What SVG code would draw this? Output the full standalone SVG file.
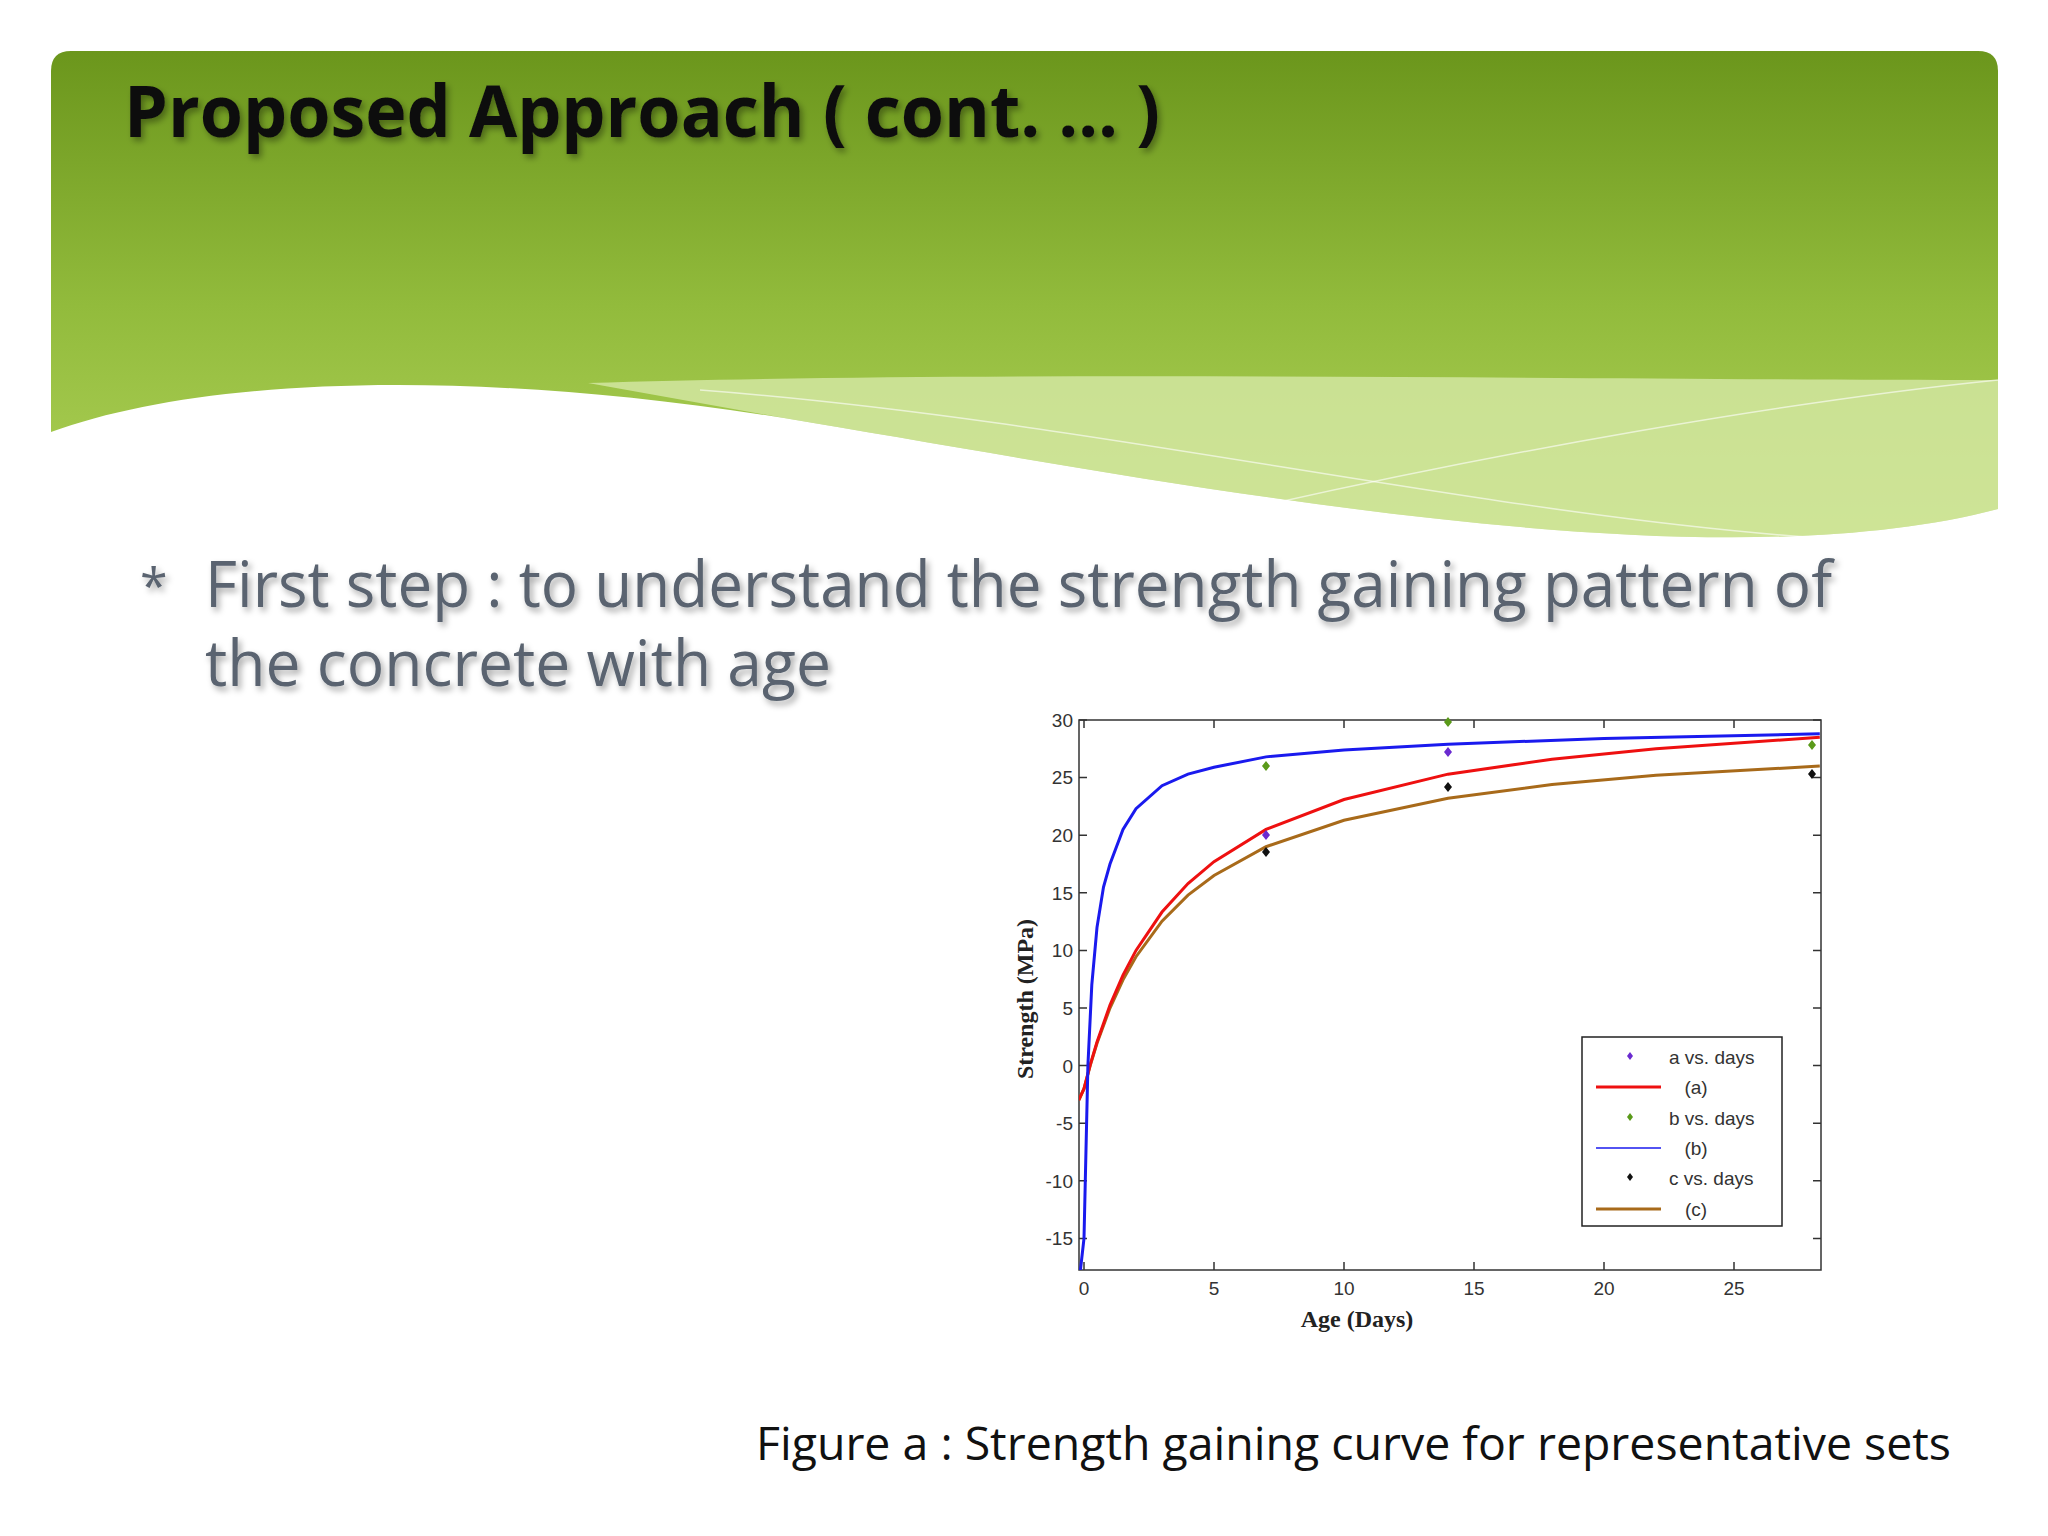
<svg xmlns="http://www.w3.org/2000/svg" width="2048" height="1536" viewBox="0 0 2048 1536">
<defs>
<linearGradient id="hg" x1="0" y1="0" x2="0" y2="1">
<stop offset="0" stop-color="#6b961c"/><stop offset="0.5" stop-color="#92bb3c"/><stop offset="1" stop-color="#b2d45c"/>
</linearGradient>
<filter id="sh" x="-5%" y="-20%" width="110%" height="140%"><feDropShadow dx="3" dy="4" stdDeviation="3" flood-color="#000" flood-opacity="0.35"/></filter>
<clipPath id="pc"><rect x="1079" y="720" width="742" height="550"/></clipPath>
<style>
.tk{font-family:"Liberation Sans",Arial,sans-serif;font-size:19px;fill:#333}
.lg{font-family:"Liberation Sans",Arial,sans-serif;font-size:19px;fill:#333}
.cv{fill:none;stroke-width:3;vector-effect:non-scaling-stroke}
.tm{stroke:#333;stroke-width:1.5}
</style>
</defs>
<rect width="2048" height="1536" fill="#fff"/>
<g id="header">
<path d="M51,71 Q51,51 71,51 L1978,51 Q1998,51 1998,71 L1998,560 L51,560 Z" fill="url(#hg)"/>
<path d="M588,383 C1000,370 1600,380 1998,380 L1998,509 C1698,588 1175,483 784,418 Z" fill="#d6e9a6" opacity="0.8"/>
<path d="M700,390 C1100,420 1500,520 1850,540" fill="none" stroke="#fff" stroke-width="1.5" opacity="0.6"/>
<path d="M1200,520 C1500,450 1800,400 1998,380" fill="none" stroke="#fff" stroke-width="1.5" opacity="0.6"/>
<path d="M51,432 C196,379 457,366 784,418 C1175,483 1698,588 1998,509 L1998,600 L51,600 Z" fill="#fff"/>
<text x="124" y="137" font-family="'Open Sans',sans-serif" font-weight="bold" font-size="72" fill="#111" textLength="1036" lengthAdjust="spacingAndGlyphs" filter="url(#sh)">Proposed Approach ( cont. … )</text>
</g>
<g id="bullet" font-family="'Open Sans',sans-serif" fill="#5a6470" filter="url(#sh)">
<text x="140" y="604" font-size="50">*</text>
<text x="205" y="607" font-size="64" textLength="1627" lengthAdjust="spacingAndGlyphs">First step : to understand the strength gaining pattern of</text>
<text x="205" y="686" font-size="64" textLength="626" lengthAdjust="spacingAndGlyphs">the concrete with age</text>
</g>
<g id="plot">
<rect x="1079" y="720" width="742" height="550" fill="#fff" stroke="#333" stroke-width="1.5"/>
<g class="tm">
<path d="M1079,720h8M1079,777.6h8M1079,835.2h8M1079,892.8h8M1079,950.4h8M1079,1008h8M1079,1065.6h8M1079,1123.2h8M1079,1180.8h8M1079,1238.4h8"/>
<path d="M1821,720h-8M1821,777.6h-8M1821,835.2h-8M1821,892.8h-8M1821,950.4h-8M1821,1008h-8M1821,1065.6h-8M1821,1123.2h-8M1821,1180.8h-8M1821,1238.4h-8"/>
<path d="M1084,1270v-8M1214,1270v-8M1344,1270v-8M1474,1270v-8M1604,1270v-8M1734,1270v-8"/>
<path d="M1084,720v8M1214,720v8M1344,720v8M1474,720v8M1604,720v8M1734,720v8"/>
</g>
<g class="tk" text-anchor="end">
<text x="1073" y="727">30</text><text x="1073" y="784">25</text><text x="1073" y="842">20</text><text x="1073" y="900">15</text><text x="1073" y="957">10</text><text x="1073" y="1015">5</text><text x="1073" y="1073">0</text><text x="1073" y="1130">-5</text><text x="1073" y="1188">-10</text><text x="1073" y="1245">-15</text>
</g>
<g class="tk" text-anchor="middle">
<text x="1084" y="1295">0</text><text x="1214" y="1295">5</text><text x="1344" y="1295">10</text><text x="1474" y="1295">15</text><text x="1604" y="1295">20</text><text x="1734" y="1295">25</text>
</g>
<text x="1357" y="1327" text-anchor="middle" font-family="'Liberation Serif',serif" font-weight="bold" font-size="24" fill="#222">Age (Days)</text>
<text transform="translate(1033,999) rotate(-90)" text-anchor="middle" font-family="'Liberation Serif',serif" font-weight="bold" font-size="24" fill="#222">Strength (MPa)</text>
<g clip-path="url(#pc)">
<g transform="translate(1084,1065.6) scale(26,-11.52)">
<polyline class="cv" stroke="#a86a1a" points="-0.2,-3 0,-2 0.25,0.1 0.5,1.94 1,5 1.5,7.45 2,9.45 3,12.54 4,14.8 5,16.5 7,19 10,21.3 14,23.2 18,24.4 22,25.2 28.3,26"/>
<polyline class="cv" stroke="#ee1010" points="-0.2,-3 0,-2 0.25,0.15 0.5,2.05 1,5.25 1.5,7.85 2,10 3,13.33 4,15.8 5,17.7 7,20.5 10,23.1 14,25.3 18,26.6 22,27.5 28.3,28.5"/>
<polyline class="cv" stroke="#1a1aee" points="-0.15,-18 0,-15 0.05,-10 0.15,0 0.3,7 0.5,12 0.75,15.5 1,17.5 1.5,20.5 2,22.3 3,24.3 4,25.3 5,25.9 7,26.8 10,27.4 14,27.9 20,28.4 28.3,28.8"/>
</g>
</g>
<g id="markers">
<path d="M1266,830l4,5l-4,5l-4,-5zM1448,747l4,5l-4,5l-4,-5z" fill="#6a2ad0"/>
<path d="M1266,761l4,5l-4,5l-4,-5zM1448,717l4,5l-4,5l-4,-5zM1812,740l4,5l-4,5l-4,-5z" fill="#5a9a1a"/>
<path d="M1266,847l4,5l-4,5l-4,-5zM1448,782l4,5l-4,5l-4,-5zM1812,769l4,5l-4,5l-4,-5z" fill="#111"/>
</g>
<g id="legend">
<rect x="1582" y="1037" width="200" height="189" fill="#fff" stroke="#222" stroke-width="1.5"/>
<path d="M1630,1052l3,4l-3,4l-3,-4z" fill="#6a2ad0"/>
<path d="M1630,1113l3,4l-3,4l-3,-4z" fill="#5a9a1a"/>
<path d="M1630,1173l3,4l-3,4l-3,-4z" fill="#111"/>
<line x1="1596" y1="1087" x2="1661" y2="1087" stroke="#ee1010" stroke-width="3"/>
<line x1="1596" y1="1148" x2="1661" y2="1148" stroke="#1a1aee" stroke-width="1.5"/>
<line x1="1596" y1="1209" x2="1661" y2="1209" stroke="#a86a1a" stroke-width="3"/>
<text class="lg" x="1669" y="1064">a vs. days</text>
<text class="lg" x="1696" y="1094" text-anchor="middle">(a)</text>
<text class="lg" x="1669" y="1125">b vs. days</text>
<text class="lg" x="1696" y="1155" text-anchor="middle">(b)</text>
<text class="lg" x="1669" y="1185">c vs. days</text>
<text class="lg" x="1696" y="1216" text-anchor="middle">(c)</text>
</g>
</g>
<text id="caption" x="1951" y="1460" text-anchor="end" font-family="'Open Sans',sans-serif" font-size="46" fill="#111" textLength="1195" lengthAdjust="spacingAndGlyphs">Figure a : Strength gaining curve for representative sets</text>
</svg>
